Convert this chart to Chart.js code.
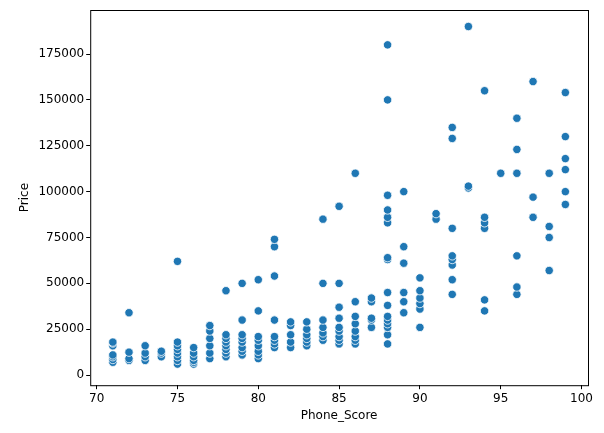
<!DOCTYPE html>
<html><head><script src="https://cdn.jsdelivr.net/npm/chart.js@4"></script>
<style>body{margin:0;background:#fff}#w{width:604px;height:433px}</style></head>
<body><div id="w"><canvas id="c"></canvas></div>
<script>
const scores=[71,72,73,74,75,76,77,78,79,80,81,82,83,84,85,86,87,88,89,90,91,92,93,94,95,96,97,98,99];
const prices=[
[7000,8500,10000,11000,16000,17500,18000],
[8000,9000,12500,34000],
[8000,10000,12000,16000],
[10000,12000,13000],
[6000,8000,10000,12000,14000,16000,18000,62000],
[6000,7000,8000,10000,12000,15000],
[9000,12000,16000,20000,24000,27000],
[10000,12000,14000,16000,18000,20000,22000,46000],
[11000,13000,15000,18000,20000,22000,30000,50000],
[9000,11000,13000,16000,19000,21000,35000,52000],
[15000,17000,19000,21000,30000,54000,70000,74000],
[15000,18000,22000,27000,29000],
[16000,18000,20000,22000,25000,29000],
[19000,21000,23000,26000,30000,50000,85000],
[17000,19000,21000,24000,26000,31000,37000,50000,92000],
[17000,19000,21000,24000,28000,32000,40000,110000],
[26000,30000,31000,40000,42000],
[17000,22000,26000,28000,30000,32000,38000,45000,63000,64000,83000,86000,90000,98000,150000,180000],
[34000,40000,45000,61000,70000,100000],
[26000,36000,39000,42000,46000,53000],
[85000,88000],
[44000,52000,60000,63000,65000,80000,129000,135000],
[102000,103000,190000],
[35000,41000,80000,83000,86000,155000],
[110000],
[44000,48000,65000,110000,123000,140000],
[86000,97000,160000],
[57000,75000,81000,110000],
[93000,100000,112000,118000,130000,154000]];
const xTicks=[70,75,80,85,90,95,100];
const yTicks=[0,25000,50000,75000,100000,125000,150000,175000];
const pts=[];scores.forEach((s,i)=>prices[i].forEach(p=>pts.push({x:s,y:p})));
const frame={id:'frame',afterDraw(c){const a=c.chartArea,g=c.ctx;g.save();g.strokeStyle='#000';g.lineWidth=1;g.strokeRect(a.left+.5,a.top+.5,a.right-a.left,a.bottom-a.top);g.restore();}};
const font={family:'DejaVu Sans',size:12};
const grid={display:true,drawOnChartArea:false,drawTicks:true,tickLength:4,color:'#000'};
new Chart(document.getElementById('c'),{type:'scatter',
data:{datasets:[{data:pts,backgroundColor:'#1f77b4',borderColor:'#ffffff',borderWidth:0.8,pointRadius:4.2,pointHoverRadius:4.2}]},
options:{responsive:true,maintainAspectRatio:false,animation:false,
layout:{padding:{left:14,right:16,top:10,bottom:6}},
plugins:{legend:{display:false},tooltip:{enabled:false}},
scales:{
x:{type:'linear',min:69.6,max:100.4,grid,border:{display:false},
afterBuildTicks(ax){ax.ticks=xTicks.map(v=>({value:v}));},
ticks:{color:'#000',font,padding:2},title:{display:true,text:'Phone_Score',color:'#000',font,padding:{top:1}}},
y:{type:'linear',min:-5500,max:199000,grid,border:{display:false},
afterBuildTicks(ax){ax.ticks=yTicks.map(v=>({value:v}));},
ticks:{color:'#000',font,padding:2,callback:v=>String(v)},title:{display:true,text:'Price',color:'#000',font}}}},
plugins:[frame]});
</script></body></html>
